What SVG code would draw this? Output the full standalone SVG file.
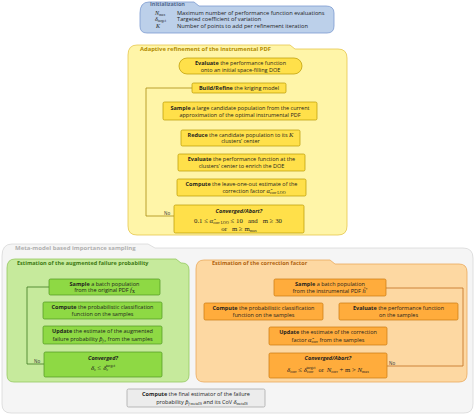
<svg xmlns="http://www.w3.org/2000/svg" width="474" height="414" viewBox="0 0 474 414">
<style>
.t{font-family:"Open Sans","DejaVu Sans",sans-serif;font-size:5.5px;fill:#1e1e1e;text-anchor:middle;white-space:pre}
.l{font-family:"Open Sans","DejaVu Sans",sans-serif;font-weight:bold;white-space:pre}
.d{font-family:"Open Sans","DejaVu Sans",sans-serif;font-size:5.7px;fill:#1e1e1e;white-space:pre}
.sy{font-family:"Liberation Serif","DejaVu Serif",serif;font-size:6px;font-style:italic;fill:#1e1e1e}
.b{font-weight:bold}
.bi{font-weight:bold;font-style:italic}
.m{font-family:"Liberation Serif","DejaVu Serif",serif;font-style:italic}
.r{font-family:"Liberation Serif","DejaVu Serif",serif;font-style:normal}
.s{font-size:4px}
.ss{font-size:3.6px;font-style:normal}
.no{font-family:"Open Sans","DejaVu Sans",sans-serif;font-size:4.5px;fill:#333}
.yn{fill:#ffe04a;stroke:#b89800;stroke-width:0.7}
.gn{fill:#8ed944;stroke:#4e951f;stroke-width:0.7}
.on{fill:#ffac3c;stroke:#c9780f;stroke-width:0.7}
.cn{fill:none;stroke-width:0.8}
</style>

<g id="initialization">
<path d="M140,13 Q140,2 149,2 L194,2 L199,6 L326,6 Q334,6 334,13 L334,26 Q334,33 327,33 L147,33 Q140,33 140,26 Z" fill="#bcd0ea" stroke="#7b9bd0" stroke-width="0.8"/>
<text class="l" x="150" y="5.5" font-size="5.5" fill="#53698c">Initialization</text>
<text class="sy" x="155" y="14.5">N<tspan class="ss" baseline-shift="-1">max</tspan></text>
<text class="d" x="177" y="14.5">Maximum number of performance function evaluations</text>
<text class="sy" x="155" y="21.4">δ<tspan class="ss" baseline-shift="-1">target</tspan></text>
<text class="d" x="177" y="21.4">Targeted coefficient of variation</text>
<text class="sy" x="156" y="28.4">K</text>
<text class="d" x="177" y="28.4">Number of points to add per refinement iteration</text>
</g>

<g id="adaptive-refinement">
<path d="M128,55 Q128,45 137,45 L290,45 L295,49 L338,49 Q347,49 347,58 L347,226 Q347,235 338,235 L137,235 Q128,235 128,226 Z" fill="#fff5a8" stroke="#e6c64c" stroke-width="0.8"/>
<text class="l" x="140" y="50.5" font-size="5.8" fill="#b28c00">Adaptive refinement of the instrumental PDF</text>
</g>

<g id="meta-model-is">
<path d="M2,256 Q2,244 12,244 L148,244 L155,248 L463,248 Q473,248 473,258 L473,404 Q473,413 464,413 L11,413 Q2,413 2,404 Z" fill="#f5f5f5" stroke="#d8d8d8" stroke-width="0.8"/>
<text class="l" x="15" y="249.5" font-size="6" fill="#b0b0b0">Meta-model based importance sampling</text>
</g>

<g id="augmented-failure">
<path d="M7,268 Q7,259 15,259 L176,259 L181,263 L182,263 Q189,263 189,270 L189,375 Q189,382 182,382 L14,382 Q7,382 7,375 Z" fill="#c6ea9c" stroke="#94c960" stroke-width="0.8"/>
<text class="l" x="17" y="264.5" font-size="5.5" fill="#3d7a12">Estimation of the augmented failure probability</text>
</g>

<g id="correction-factor">
<path d="M196,269 Q196,260 204,260 L330,260 L335,264 L459,264 Q467,264 467,272 L467,374 Q467,382 459,382 L204,382 Q196,382 196,374 Z" fill="#fdd8a2" stroke="#eaa95c" stroke-width="0.8"/>
<text class="l" x="212" y="265" font-size="5.5" fill="#b06410">Estimation of the correction factor</text>
</g>

<g id="connectors">
<polyline class="cn" stroke="#a88a10" points="174,216 146,216 146,88 192,88"/>
<polyline class="cn" stroke="#3d7a1e" points="44,364 27,364 27,287 49,287"/>
<polyline class="cn" stroke="#c07020" points="387,366 463,366 463,288 386,288"/>
<text class="no" x="164" y="215">No</text>
<text class="no" x="34" y="363">No</text>
<text class="no" x="389" y="365">No</text>
</g>

<g id="y-evaluate">
<rect class="yn" x="179" y="58" width="123" height="16" rx="8"/>
<text class="t" x="240.5" y="65"><tspan class="b">Evaluate</tspan> the performance function</text>
<text class="t" x="240.5" y="71.5">onto an initial space-filling DOE</text>
</g>
<g id="y-build">
<rect class="yn" x="192" y="83" width="94" height="10" rx="1.5"/>
<text class="t" x="239" y="90"><tspan class="b">Build/Refine</tspan> the kriging model</text>
</g>
<g id="y-sample">
<rect class="yn" x="163" y="102" width="154" height="18" rx="1.5"/>
<text class="t" x="240" y="109.5"><tspan class="b">Sample</tspan> a large candidate population from the current</text>
<text class="t" x="240" y="116.5">approximation of the optimal instrumental PDF</text>
</g>
<g id="y-reduce">
<rect class="yn" x="181" y="130" width="119" height="16" rx="1.5"/>
<text class="t" x="240.5" y="136.5"><tspan class="b">Reduce</tspan> the candidate population to its <tspan class="m" font-size="6.5">K</tspan></text>
<text class="t" x="240.5" y="143">clusters’ center</text>
</g>
<g id="y-evaluate2">
<rect class="yn" x="178" y="154" width="127" height="17" rx="1.5"/>
<text class="t" x="241.5" y="161"><tspan class="b">Evaluate</tspan> the performance function at the</text>
<text class="t" x="241.5" y="167.5">clusters’ center to enrich the DOE</text>
</g>
<g id="y-compute">
<rect class="yn" x="177" y="179" width="129" height="17" rx="1.5"/>
<text class="t" x="241.5" y="186"><tspan class="b">Compute</tspan> the leave-one-out estimate of the</text>
<text class="t" x="254" y="193">correction factor <tspan class="m" font-size="6.5">α̂</tspan><tspan class="r s" baseline-shift="-1.2">corr LOO</tspan></text>
</g>
<g id="y-converged">
<rect class="yn" x="174" y="205" width="130" height="28" rx="1.5"/>
<text class="t" x="239" y="212.5"><tspan class="bi">Converged/Abort?</tspan></text>
<text class="t" x="238" y="222.5"><tspan class="r" font-size="6.8">0.1 ≤ </tspan><tspan class="m" font-size="6.8">α̂</tspan><tspan class="r s" baseline-shift="-1.2">corr LOO</tspan><tspan class="r" font-size="6.8"> ≤ 10   and   m ≥ 30</tspan></text>
<text class="t" x="239" y="230.5"><tspan class="r" font-size="6.8">or   m ≥ m</tspan><tspan class="r s" baseline-shift="-1.2">max</tspan></text>
</g>

<g id="g-sample">
<rect class="gn" x="49" y="279" width="111" height="16" rx="1.5"/>
<text class="t" x="104.5" y="285.5"><tspan class="b">Sample</tspan> a batch population</text>
<text class="t" x="104.5" y="292">from the original PDF <tspan class="m" font-size="6.5">f</tspan><tspan class="r s b" baseline-shift="-1.2">X</tspan></text>
</g>
<g id="g-compute">
<rect class="gn" x="43" y="302" width="119" height="17" rx="1.5"/>
<text class="t" x="102.5" y="309"><tspan class="b">Compute</tspan> the probabilistic classification</text>
<text class="t" x="102.5" y="315.5">function on the samples</text>
</g>
<g id="g-update">
<rect class="gn" x="43" y="326" width="119" height="18" rx="1.5"/>
<text class="t" x="102.5" y="333"><tspan class="b">Update</tspan> the estimate of the augmented</text>
<text class="t" x="102.5" y="340.5">failure probability <tspan class="m" font-size="6.5">p̂</tspan><tspan class="m s" baseline-shift="-1.2">f ε</tspan> from the samples</text>
</g>
<g id="g-converged">
<rect class="gn" x="44" y="352" width="118" height="25" rx="1.5"/>
<text class="t" x="103" y="359.5"><tspan class="bi">Converged?</tspan></text>
<text class="t" x="103" y="370"><tspan class="m" font-size="7">δ</tspan><tspan class="m s" baseline-shift="-1.2">ε</tspan><tspan class="r" font-size="7"> ≤ </tspan><tspan class="m" font-size="7">δ</tspan><tspan class="m s" baseline-shift="-1.2">ε</tspan><tspan class="r s" dx="-2" baseline-shift="2.8">target</tspan></text>
</g>

<g id="o-sample">
<rect class="on" x="274" y="279" width="112" height="17" rx="1.5"/>
<text class="t" x="330" y="285.5"><tspan class="b">Sample</tspan> a batch population</text>
<text class="t" x="330" y="292.5">from the instrumental PDF <tspan class="m" font-size="6.5">ĥ</tspan><tspan class="r s" baseline-shift="2.2">*</tspan></text>
</g>
<g id="o-compute">
<rect class="on" x="204" y="303" width="119" height="17" rx="1.5"/>
<text class="t" x="263.5" y="310"><tspan class="b">Compute</tspan> the probabilistic classification</text>
<text class="t" x="263.5" y="316.5">function on the samples</text>
</g>
<g id="o-evaluate">
<rect class="on" x="339" y="303" width="119" height="17" rx="1.5"/>
<text class="t" x="398.5" y="310"><tspan class="b">Evaluate</tspan> the performance function</text>
<text class="t" x="398.5" y="316.5">on the samples</text>
</g>
<g id="o-update">
<rect class="on" x="269" y="327" width="118" height="18" rx="1.5"/>
<text class="t" x="328" y="334"><tspan class="b">Update</tspan> the estimate of the correction</text>
<text class="t" x="328" y="341.5">factor <tspan class="m" font-size="6.5">α̂</tspan><tspan class="r s" baseline-shift="-1.2">corr</tspan> from the samples</text>
</g>
<g id="o-converged">
<rect class="on" x="269" y="353" width="118" height="25" rx="1.5"/>
<text class="t" x="328" y="360"><tspan class="bi">Converged/Abort?</tspan></text>
<text class="t" x="328" y="371.5"><tspan class="m" font-size="6.8">δ</tspan><tspan class="r s" baseline-shift="-1.2">corr</tspan><tspan class="r" font-size="6.8"> ≤ </tspan><tspan class="m" font-size="6.8">δ</tspan><tspan class="r s" baseline-shift="-1.2">corr</tspan><tspan class="r s" dx="-7" baseline-shift="2.8">target</tspan><tspan class="r" font-size="6.2">  or  </tspan><tspan class="m" font-size="6.8">N</tspan><tspan class="r s" baseline-shift="-1.2">corr</tspan><tspan class="r" font-size="6.8"> + m &gt; </tspan><tspan class="m" font-size="6.8">N</tspan><tspan class="r s" baseline-shift="-1.2">max</tspan></text>
</g>

<g id="final-compute">
<rect x="127" y="389" width="138" height="18" rx="1.5" fill="#ececec" stroke="#a0a0a0" stroke-width="0.7"/>
<text class="t" x="196" y="396"><tspan class="b">Compute</tspan> the final estimator of the failure</text>
<text class="t" x="202" y="403.5">probability <tspan class="m" font-size="6.5">p̂</tspan><tspan class="m s" baseline-shift="-1.2">f </tspan><tspan class="r s" baseline-shift="-1.2">metaIS</tspan> and its CoV <tspan class="m" font-size="6.5">δ</tspan><tspan class="r s" baseline-shift="-1.2">metaIS</tspan></text>
</g>
</svg>
